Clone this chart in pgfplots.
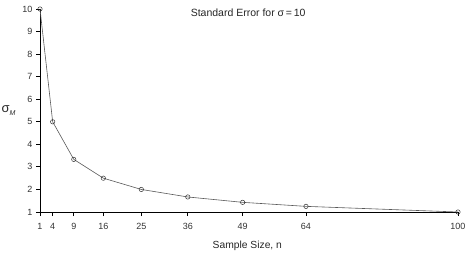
\documentclass[border=0pt]{standalone}
\usepackage{fontspec}
\setmainfont{Liberation Sans}
\usepackage{pgfplots}
\pgfplotsset{compat=1.18}
\begin{document}
\begin{tikzpicture}[x=1pt,y=1pt]
\useasboundingbox (0,0) rectangle (474,266);
\begin{axis}[
  at={(40pt,54pt)}, anchor=origin,
  scale only axis, width=418pt, height=203pt,
  xmin=1, xmax=100, ymin=1, ymax=10,
  axis x line*=bottom, axis y line*=left,
  axis line style={black, line width=0.8pt},
  xtick={1,4,9,16,25,36,49,64,100},
  ytick={1,2,3,4,5,6,7,8,9,10},
  tick align=outside, major tick length=4pt,
  tick style={black, line width=0.8pt},
  tick label style={font=\fontsize{9}{10}\selectfont, text=black!80},
  /pgf/number format/assume math mode=true,
  xticklabel style={yshift=-4pt},
  clip=false,
]
\addplot[color=black!65, line width=0.6pt, mark=o, mark size=2.2pt,
  mark options={fill=white, draw=black!80, line width=0.5pt}]
  coordinates {(1,10) (4,5) (9,3.3333) (16,2.5) (25,2) (36,1.6667) (49,1.4286) (64,1.25) (100,1)};
\node[font=\fontsize{10.5}{12}\selectfont, text=black!85] at (rel axis cs:0.498,0.98) {Standard Error for σ\,=\,10};
\node[font=\fontsize{10.3}{12}\selectfont, text=black!85] at (rel axis cs:0.496,-0.167) {Sample Size, n};
\node[font=\fontsize{13}{14}\selectfont, text=black!85] at (rel axis cs:-0.075,0.5) {σ\raisebox{-0.4ex}{\fontsize{7}{8}\selectfont\itshape M}};
\end{axis}
\end{tikzpicture}
\end{document}
